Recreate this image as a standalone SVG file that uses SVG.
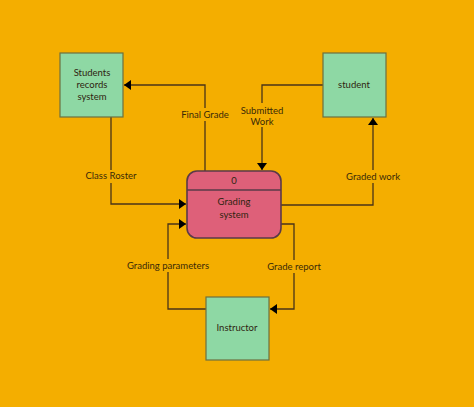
<svg xmlns="http://www.w3.org/2000/svg" width="474" height="407" viewBox="0 0 474 407">
<style>
.ext{fill:#8ED8A4;stroke:#6B7040;stroke-width:1.2}
.proc{fill:#DE6079;stroke:#5A3A48;stroke-width:1.6}
.t{font-family:Lato,"Liberation Sans",sans-serif;font-size:9.5px;fill:#2E2410;text-anchor:middle}
.lbl{font-family:Lato,"Liberation Sans",sans-serif;font-size:9.5px;fill:#3A2A08;text-anchor:middle}
.c{fill:none;stroke:#4A3418;stroke-width:1.3}
.bg{fill:#F4AE00;stroke:none}
</style>
<defs>
<marker id="arr" viewBox="0 0 7 10" refX="7" refY="5" markerWidth="7" markerHeight="10" markerUnits="userSpaceOnUse" orient="auto">
<path d="M0,0 L7,5 L0,10 z" fill="#000"/>
</marker>
</defs>
<rect width="474" height="407" fill="#F4AE00"/>
<g id="connectors">
<path class="c" d="M205,171 V85 H124" marker-end="url(#arr)"/>
<path class="c" d="M323,85 H262 V170" marker-end="url(#arr)"/>
<path class="c" d="M111,117 V204 H186" marker-end="url(#arr)"/>
<path class="c" d="M281,205 H373 V118" marker-end="url(#arr)"/>
<path class="c" d="M206,309 H168 V224 H186" marker-end="url(#arr)"/>
<path class="c" d="M281,224 H294 V309 H270" marker-end="url(#arr)"/>
<rect class="bg" x="178" y="108" width="54" height="13"/>
<text class="lbl" x="205" y="118">Final Grade</text>
<rect class="bg" x="236" y="103" width="52" height="24"/>
<text class="lbl" x="262" y="114">Submitted</text>
<text class="lbl" x="262" y="125">Work</text>
<rect class="bg" x="81" y="170" width="60" height="13"/>
<text class="lbl" x="111" y="179">Class Roster</text>
<rect class="bg" x="343" y="170" width="60" height="13"/>
<text class="lbl" x="373" y="180">Graded work</text>
<rect class="bg" x="125" y="259" width="86" height="13"/>
<text class="lbl" x="168" y="269">Grading parameters</text>
<rect class="bg" x="264" y="260" width="60" height="13"/>
<text class="lbl" x="294" y="270">Grade report</text>
</g>
<g id="students-records">
<rect class="ext" x="60" y="53" width="63" height="64"/>
<text class="t" x="92" y="76">Students</text>
<text class="t" x="92" y="88">records</text>
<text class="t" x="92" y="100">system</text>
</g>
<g id="student">
<rect class="ext" x="323" y="53" width="63" height="64"/>
<text class="t" x="354" y="88">student</text>
</g>
<g id="grading-system">
<rect class="proc" x="187" y="171" width="94" height="67" rx="10"/>
<line x1="187" y1="190" x2="281" y2="190" stroke="#5A3A48" stroke-width="1.4"/>
<text class="t" x="234" y="184">0</text>
<text class="t" x="234" y="205">Grading</text>
<text class="t" x="234" y="218">system</text>
</g>
<g id="instructor">
<rect class="ext" x="206" y="297" width="63" height="63"/>
<text class="t" x="237" y="331">Instructor</text>
</g>
</svg>
